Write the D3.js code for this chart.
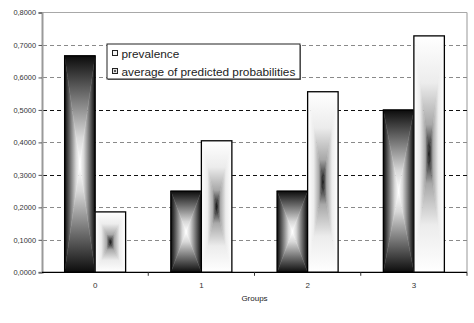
<!DOCTYPE html>
<html>
<head>
<meta charset="utf-8">
<script src="https://cdn.jsdelivr.net/npm/d3@7"></script>
<style>
  html, body { margin: 0; padding: 0; background: #fff; }
  svg { display: block; }
  text { font-family: "Liberation Sans", Arial, sans-serif; }
</style>
</head>
<body>
<svg id="chart" width="474" height="323"></svg>
<script>
// Categories, series and values
const groups = ["0", "1", "2", "3"];
const seriesNames = ["prevalence", "average of predicted probabilities"];
const prevalence = [0.6667, 0.25, 0.25, 0.5];
const avgPredicted = [0.186, 0.405, 0.556, 0.728];
const yTicks = [0, 0.1, 0.2, 0.3, 0.4, 0.5, 0.6, 0.7, 0.8];
const axisTitle = "Groups";

const W = 474, H = 323;
const margin = { left: 42, right: 7, top: 12.5, bottom: 50.7 };
const svg = d3.select("#chart");

const y = d3.scaleLinear().domain([0, 0.8]).range([H - margin.bottom, margin.top]);
const x0 = d3.scaleBand().domain(groups).range([margin.left, W - margin.right]).padding(0);
const x1 = d3.scaleBand().domain(seriesNames).range([0, x0.bandwidth()])
  .paddingInner(0).paddingOuter(0.742);

const fmt = v => d3.format(".4f")(v).replace(".", ",");

// Rectangular "from centre" gradients built from four triangles
const defs = svg.append("defs");
const ramps = {
  prevalence: [[0, "#0c0c0c"], [0.35, "#6a6a6a"], [0.75, "#d8d8d8"], [1, "#ffffff"]],
  avg: [[0, "#ffffff"], [0.4, "#ececec"], [0.75, "#a8a8a8"], [1, "#101010"]]
};
const dirs = {
  top: [0, 0, 0, 1], bottom: [0, 1, 0, 0], left: [0, 0, 1, 0], right: [1, 0, 0, 0]
};
Object.entries(ramps).forEach(([key, stops]) => {
  Object.entries(dirs).forEach(([dir, c]) => {
    const g = defs.append("linearGradient")
      .attr("id", `g-${key}-${dir}`)
      .attr("x1", c[0]).attr("y1", c[1]).attr("x2", c[2]).attr("y2", c[3]);
    stops.forEach(s => g.append("stop").attr("offset", s[0]).attr("stop-color", s[1]));
  });
});

// Plot frame
const plotL = margin.left, plotR = W - margin.right, plotT = margin.top, plotB = H - margin.bottom;
svg.append("line").attr("x1", plotL).attr("x2", plotR).attr("y1", plotT).attr("y2", plotT)
  .attr("stroke", "#a8a8a8").attr("stroke-width", 1.2);
svg.append("line").attr("x1", plotR).attr("x2", plotR).attr("y1", plotT).attr("y2", plotB)
  .attr("stroke", "#a8a8a8").attr("stroke-width", 1.2);

// Gridlines
svg.append("g").selectAll("line")
  .data(yTicks.filter(t => t > 0 && t < 0.8))
  .join("line")
  .attr("x1", plotL + 1).attr("x2", plotR)
  .attr("y1", d => Math.round(y(d)) + 0.5).attr("y2", d => Math.round(y(d)) + 0.5)
  .attr("stroke", d => (Math.abs(d - 0.3) < 1e-6 || Math.abs(d - 0.5) < 1e-6) ? "#111" : "#8a8a8a")
  .attr("stroke-width", 1.2)
  .attr("stroke-dasharray", "4,3");

// Bars
const rows = groups.map((g, i) => [
  { group: g, key: "prevalence", name: seriesNames[0], value: prevalence[i] },
  { group: g, key: "avg", name: seriesNames[1], value: avgPredicted[i] }
]).flat();

const bars = svg.append("g").selectAll("g").data(rows).join("g");
bars.each(function(d) {
  const gx = x0(d.group) + x1(d.name);
  const w = x1.bandwidth();
  const top = y(d.value), bot = y(0);
  const cx = gx + w / 2, cy = (top + bot) / 2;
  const sel = d3.select(this);
  const tri = [
    ["top", [[gx, top], [gx + w, top], [cx, cy]]],
    ["bottom", [[gx, bot], [gx + w, bot], [cx, cy]]],
    ["left", [[gx, top], [gx, bot], [cx, cy]]],
    ["right", [[gx + w, top], [gx + w, bot], [cx, cy]]]
  ];
  tri.forEach(([dir, pts]) => {
    sel.append("path")
      .attr("d", "M" + pts.map(p => p.join(",")).join("L") + "Z")
      .attr("fill", `url(#g-${d.key}-${dir})`)
      .attr("stroke", `url(#g-${d.key}-${dir})`)
      .attr("stroke-width", 0.4);
  });
  sel.append("rect")
    .attr("x", gx).attr("y", top).attr("width", w).attr("height", bot - top)
    .attr("fill", "none").attr("stroke", "#000").attr("stroke-width", 1.3);
});

// Y axis
const yAxis = d3.axisLeft(y).tickValues(yTicks).tickFormat(fmt).tickSize(3.5).tickPadding(2.5);
const gy = svg.append("g").attr("transform", `translate(${plotL},0)`).call(yAxis);
gy.select(".domain").attr("stroke", "#9a9a9a").attr("stroke-width", 2);
gy.selectAll(".tick line").attr("stroke", "#555");
gy.selectAll(".tick text").attr("font-size", "7.4px").attr("fill", "#333")
  .attr("font-family", "'Liberation Sans', Arial, sans-serif");

// X axis with ticks at category boundaries
const gx = svg.append("g").attr("transform", `translate(0,${plotB})`);
gx.append("line").attr("x1", plotL).attr("x2", plotR).attr("y1", 0).attr("y2", 0)
  .attr("stroke", "#000").attr("stroke-width", 1.3);
const bounds = groups.slice(1).map(g => x0(g)).concat([plotR]);
gx.selectAll(".bt").data(bounds).join("line")
  .attr("x1", d => d).attr("x2", d => d).attr("y1", 0).attr("y2", 3.5)
  .attr("stroke", "#333");
gx.selectAll(".xl").data(groups).join("text")
  .attr("x", d => x0(d) + x0.bandwidth() / 2).attr("y", 16)
  .attr("text-anchor", "middle").attr("font-size", "8px").attr("fill", "#333")
  .text(d => d);
svg.append("text").attr("x", (plotL + plotR) / 2).attr("y", 301)
  .attr("text-anchor", "middle").attr("font-size", "8px").attr("fill", "#222")
  .text(axisTitle);

// Legend
const leg = svg.append("g");
leg.append("rect").attr("x", 108).attr("y", 45).attr("width", 193).attr("height", 35).attr("fill", "#777");
leg.append("rect").attr("x", 107).attr("y", 44).attr("width", 193).attr("height", 35)
  .attr("fill", "#fff").attr("stroke", "#222").attr("stroke-width", 1);
const legY = [58, 76];
seriesNames.forEach((name, i) => {
  const sy = legY[i] - 7.5;
  leg.append("rect").attr("x", 112.5).attr("y", sy).attr("width", 5).attr("height", 5)
    .attr("fill", i === 0 ? "#f4f4f4" : "#e0e0e0").attr("stroke", "#222").attr("stroke-width", 1);
  if (i === 1) {
    leg.append("rect").attr("x", 114.2).attr("y", sy + 1.7).attr("width", 1.6).attr("height", 1.6)
      .attr("fill", "#111");
  }
  leg.append("text").attr("x", 121.5).attr("y", legY[i])
    .attr("font-size", "11.8px").attr("fill", "#222").text(name);
});
</script>
</body>
</html>
